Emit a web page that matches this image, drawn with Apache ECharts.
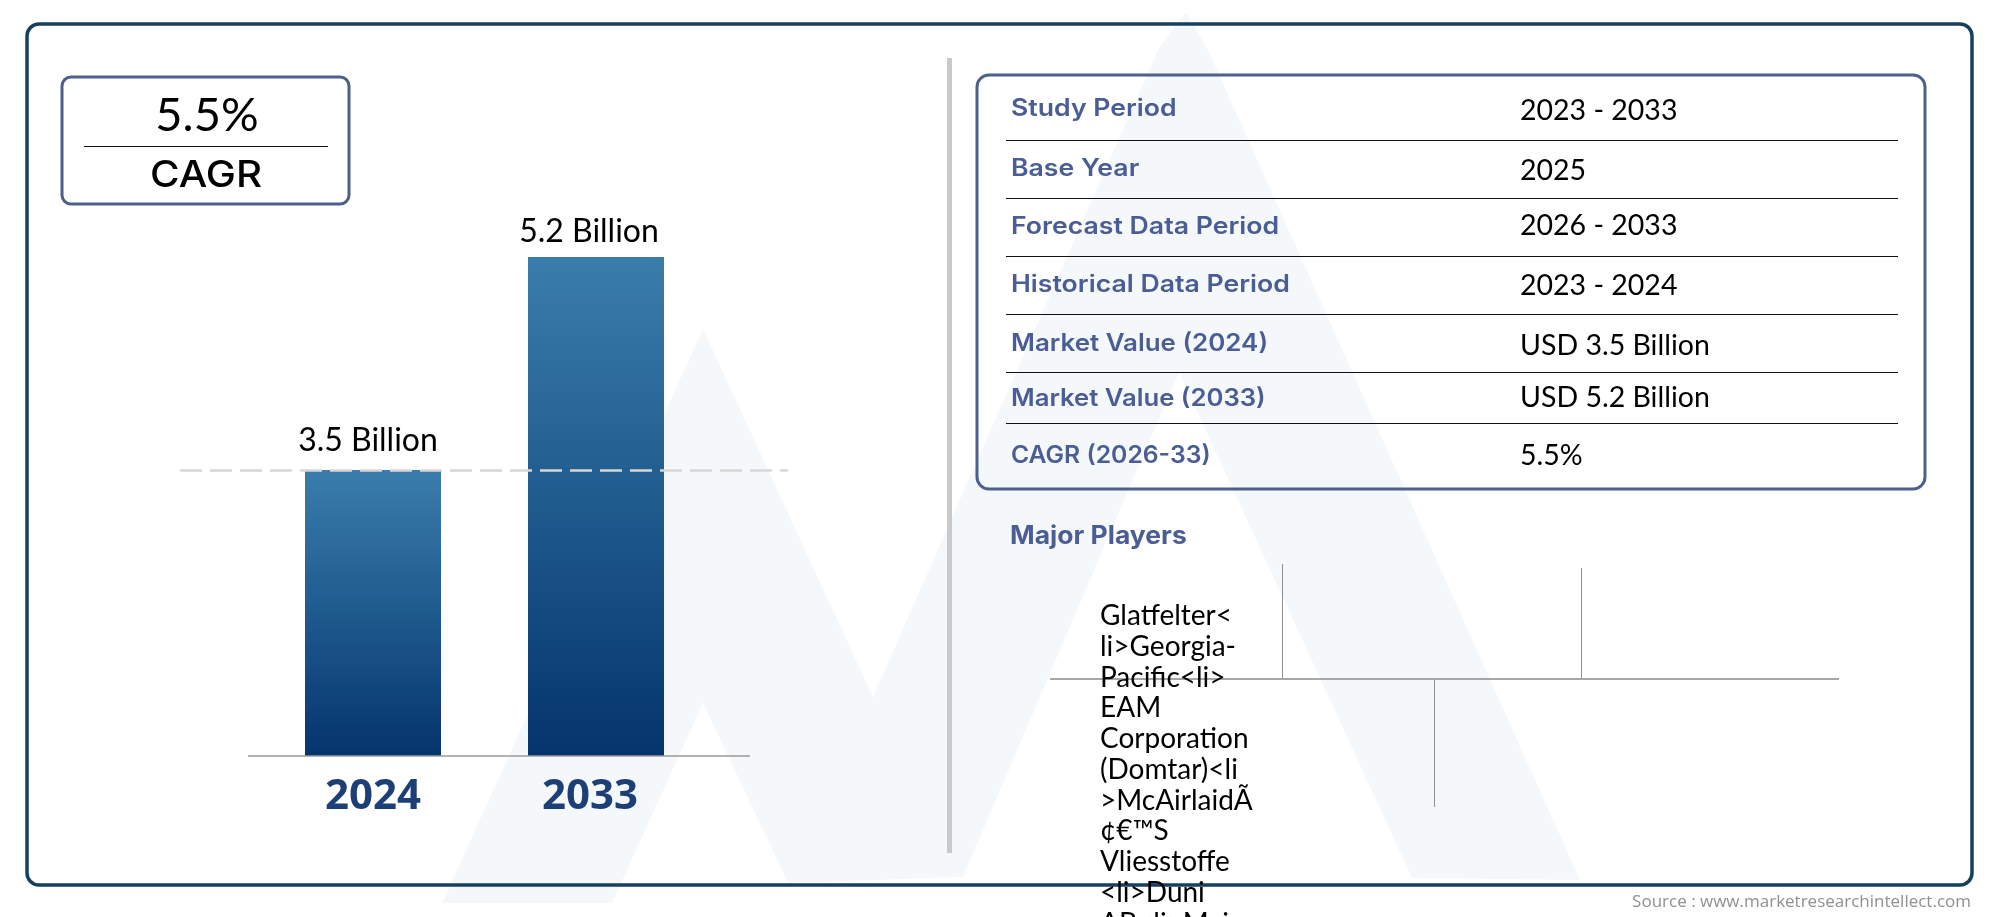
<!DOCTYPE html>
<html>
<head>
<meta charset="utf-8">
<style>
  html, body { margin: 0; padding: 0; background: #fff; overflow: hidden; }
  #chart { width: 2000px; height: 917px; }
</style>
<script src="https://cdn.jsdelivr.net/npm/echarts@6/dist/echarts.min.js"></script>
</head>
<body>
<div id="chart"></div>
<script>
const years = ['2024', '2033'];
const marketValues = [3.5, 5.2];
const valueLabels = ['3.5 Billion', '5.2 Billion'];
const infoKeys = ['Study Period', 'Base Year', 'Forecast Data Period', 'Historical Data Period', 'Market Value (2024)', 'Market Value (2033)', 'CAGR (2026-33)'];
const infoValues = ['2023 - 2033', '2025', '2026 - 2033', '2023 - 2024', 'USD 3.5 Billion', 'USD 5.2 Billion', '5.5%'];
const playerLines = ['Glatfelter<', 'li>Georgia-', 'Pacific<li>', 'EAM', 'Corporation', '(Domtar)<li', '>McAirlaidÃ', '¢€™S', 'Vliesstoffe', '<li>Duni', 'AB<li>Mai'];

const bodyFont = 'Lato';
const headFont = 'Inter';
const slate = '#4a5d94';

// layout of the table and the tree, page pixels
const rowKeyY = [109, 169, 227, 285, 344, 399, 456];
const rowValY = [111, 171, 226, 286, 346, 398, 456];
const keyStretch = [1.11, 1.11, 1.11, 1.11, 1.08, 1.07, 1.03];
const ruleY = [140, 198, 256, 314, 372, 423];
const playerY = [616, 647, 678, 708, 739, 770, 801, 831, 862, 893, 924];
const labelOffsets = [[-5, 0], [-7, 4]];

function line(x1, y1, x2, y2, stroke, lineWidth, z) {
  return { type: 'line', z: z || 3, shape: { x1, y1, x2, y2 }, style: { stroke, lineWidth } };
}
function label(x, y, text, font, size, weight, fill, align, stretch) {
  return {
    type: 'text', z: 5, x, y, scaleX: stretch || 1,
    style: { text, fill, align: align || 'left', verticalAlign: 'middle', fontFamily: font, fontSize: size, fontWeight: weight }
  };
}
function box(x, y, width, height, stroke, lineWidth, r) {
  return { type: 'rect', z: 2, shape: { x, y, width, height, r }, style: { fill: 'transparent', stroke, lineWidth } };
}

const graphics = [
  // faint logo behind everything
  { type: 'polygon', z: -1, silent: true,
    shape: { points: [[703, 329], [873, 697], [1158, 50], [1186, 12], [1208, 50], [1580, 880], [1412, 878], [1179, 372], [963, 877], [788, 883], [703, 703], [612, 903], [442, 903]] },
    style: { fill: '#f5f8fb' } },
  box(27, 24, 1945, 861, '#17405f', 3.5, 12),
  box(62, 77, 287, 127, '#4d5f8c', 3, 9),
  line(84, 146.5, 328, 146.5, '#111', 1),
  label(207, 115.5, '5.5%', bodyFont, 47, 400, '#000', 'center'),
  label(206, 176, 'CAGR', headFont, 37, 500, '#000', 'center', 1.09),
  { type: 'rect', z: 2, shape: { x: 947, y: 58, width: 5, height: 795 }, style: { fill: '#c9c9c9' } },
  box(977, 75, 948, 414, '#4d5f8c', 3, 12),
  label(1010, 536, 'Major Players', headFont, 25, 700, slate, 'left', 1.06),
  line(1050, 679, 1839, 679, '#8a8a8a', 1.5),
  line(1282.5, 564, 1282.5, 678, '#8f8f8f', 1),
  line(1581.5, 568, 1581.5, 678, '#8f8f8f', 1),
  line(1434.5, 680, 1434.5, 807, '#8f8f8f', 1),
  label(1971, 902, 'Source : www.marketresearchintellect.com', 'Open Sans', 17, 400, '#909090', 'right')
];
ruleY.forEach(y => graphics.push(line(1006, y + 0.5, 1898, y + 0.5, '#111', 1)));
infoKeys.forEach((t, i) => graphics.push(label(1011, rowKeyY[i], t, headFont, 24, 600, slate, 'left', keyStretch[i])));
infoValues.forEach((t, i) => graphics.push(label(1520, rowValY[i], t, bodyFont, 28.5, 400, '#000')));
playerLines.forEach((t, i) => graphics.push(label(1100, playerY[i], t, bodyFont, 28, 400, '#000')));

const axisMin = 1.218;
const axisMax = 5.2;

const chart = echarts.init(document.getElementById('chart'), null, { renderer: 'canvas' });
chart.setOption({
  animation: false,
  backgroundColor: '#fff',
  graphic: graphics,
  grid: { left: 261.5, width: 446, top: 257, height: 499 },
  xAxis: {
    type: 'category',
    data: years,
    axisLine: { show: false },
    axisTick: { show: false },
    axisLabel: {
      margin: 20,
      formatter: (v, i) => '{y' + i + '|' + v + '}',
      rich: {
        y0: { fontFamily: 'Open Sans', fontWeight: 700, fontSize: 42, color: '#1c3f78' },
        y1: { fontFamily: 'Open Sans', fontWeight: 700, fontSize: 42, color: '#1c3f78', padding: [0, 12, 0, 0] }
      }
    }
  },
  yAxis: { type: 'value', min: axisMin, max: axisMax, show: false, splitLine: { show: false } },
  series: [{
    type: 'bar',
    z: 4,
    barWidth: 136,
    data: marketValues.map((value, i) => ({ value, label: { offset: labelOffsets[i] } })),
    itemStyle: {
      color: new echarts.graphic.LinearGradient(0, 0, 0, 1, [
        { offset: 0, color: '#3a7dab' },
        { offset: 0.5, color: '#1f5a8d' },
        { offset: 1, color: '#04346c' }
      ])
    },
    label: {
      show: true,
      position: 'top',
      distance: 13,
      formatter: p => valueLabels[p.dataIndex],
      fontFamily: bodyFont,
      fontSize: 32,
      color: '#000'
    },
    markLine: {
      silent: true,
      symbol: 'none',
      label: { show: false },
      animation: false,
      data: [
        [{ x: 180, yAxis: marketValues[0], lineStyle: { color: '#d6d6d6', width: 2.5, type: [22, 8] } }, { x: 788, yAxis: marketValues[0] }],
        [{ x: 248, yAxis: axisMin, lineStyle: { color: '#9a9a9a', width: 1.5, type: 'solid' } }, { x: 750, yAxis: axisMin }]
      ]
    }
  }]
});
window.addEventListener('resize', () => chart.resize());
</script>
</body>
</html>
